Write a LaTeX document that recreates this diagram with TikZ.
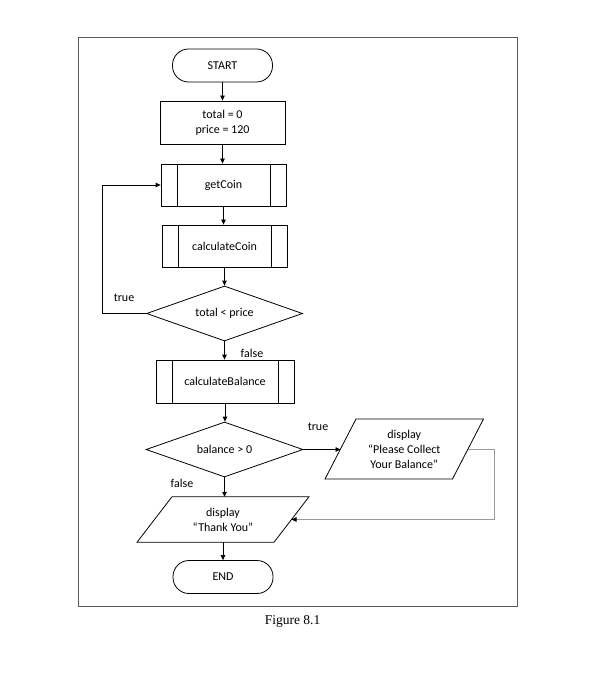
\documentclass[tikz,border=0pt]{standalone}
\usepackage{fontspec}
\setmainfont{Carlito}
\newfontfamily\capfont{Liberation Serif}
\usetikzlibrary{arrows.meta,shapes.geometric,calc}
\begin{document}
\begin{tikzpicture}[x=1pt,y=-1pt,
  every node/.style={font=\fontsize{12}{15}\selectfont, inner sep=0pt, align=center},
  line/.style={line width=0.8pt, draw=black},
  arr/.style={line, -{Triangle[length=5pt,width=4.5pt]}},
  garr/.style={line width=0.8pt, draw=black!40, -{Triangle[length=5pt,width=4.5pt,color=black]}},
  term/.style={line, rectangle, rounded corners=16pt, minimum width=100pt, minimum height=33pt},
  proc/.style={line, rectangle, minimum width=125pt, minimum height=43pt},
  subr/.style={proc, path picture={
      \draw[line width=0.8pt]
        ([xshift=16pt]path picture bounding box.north west) -- ([xshift=16pt]path picture bounding box.south west)
        ([xshift=-16pt]path picture bounding box.north east) -- ([xshift=-16pt]path picture bounding box.south east);}},
  dec/.style={line, diamond, aspect=2.8, minimum width=156pt, minimum height=55pt},
  iobox/.style={rectangle, inner sep=0pt, outer sep=0pt},
  lbl/.style={font=\fontsize{12}{15}\selectfont}
]
\useasboundingbox (0,0) rectangle (589,700);
\fill[white] (0,0) rectangle (589,700);
% frame
\draw[line width=0.9pt, draw=black!65] (78.5,37.5) rectangle (517,606);

% nodes
\node[term] (start) at (222.5,65.5) {START};
\node[proc] (init) at (222.5,122.5) {total = 0\\price = 120};
\node[subr, minimum width=125pt, minimum height=42pt] (get) at (223.5,185) {getCoin};
\node[subr, minimum width=125pt, minimum height=42pt] (calc) at (224.5,246) {calculateCoin};
\node[dec] (cmp) at (224.5,313.5) {total < price};
\node[subr, minimum width=138pt, minimum height=43pt] (bal) at (225,381.5) {calculateBalance};
\node[dec, minimum width=157pt] (pos) at (224.5,449.5) {balance > 0};
\node[iobox, minimum width=127.5pt, minimum height=60pt] (coll) at (404.25,449) {display\\“Please Collect\\Your Balance”};
\draw[line] ([xshift=15.5pt]coll.north west) -- ([xshift=15.5pt]coll.north east)
  -- ([xshift=-15.5pt]coll.south east) -- ([xshift=-15.5pt]coll.south west) -- cycle;
\node[iobox, minimum width=137pt, minimum height=45.5pt] (thx) at (223,519.5) {display\\“Thank You”};
\draw[line] ([xshift=17.5pt]thx.north west) -- ([xshift=17.5pt]thx.north east)
  -- ([xshift=-17.5pt]thx.south east) -- ([xshift=-17.5pt]thx.south west) -- cycle;
\node[term] (end) at (223,577) {END};

% labels
\node[lbl] (t1) at (124,298) {true};
\node[lbl] (f1) at (252,353) {false};
\node[lbl] (t2) at (318,427) {true};
\node[lbl] (f2) at (182,483) {false};

% connectors
\draw[arr] (start.south) -- (start.south |- init.north);
\draw[arr] (init.south) -- (init.south |- get.north);
\draw[arr] (get.south) -- (get.south |- calc.north);
\draw[arr] (calc.south) -- (calc.south |- cmp.north);
\draw[arr] (cmp.south) -- (cmp.south |- bal.north);
\draw[arr] (bal.south) -- (bal.south |- pos.north);
\draw[arr] (pos.south) -- (pos.south |- thx.north);
\draw[arr] (thx.south) -- (thx.south |- end.north);
\coordinate (loopx) at (102.5,0);
\draw[arr] (cmp.west) -- (loopx |- cmp.west) |- (get.west);
\draw[arr] (pos.east) -- (pos.east -| coll.west);
\coordinate (rx) at (494,0);
\draw[garr] (coll.east) -- (rx |- coll.east) |- (thx.east);

% caption
\node[font=\capfont\fontsize{13.5}{16}\selectfont] (cap) at (292.5,621) {Figure 8.1};
\end{tikzpicture}
\end{document}
